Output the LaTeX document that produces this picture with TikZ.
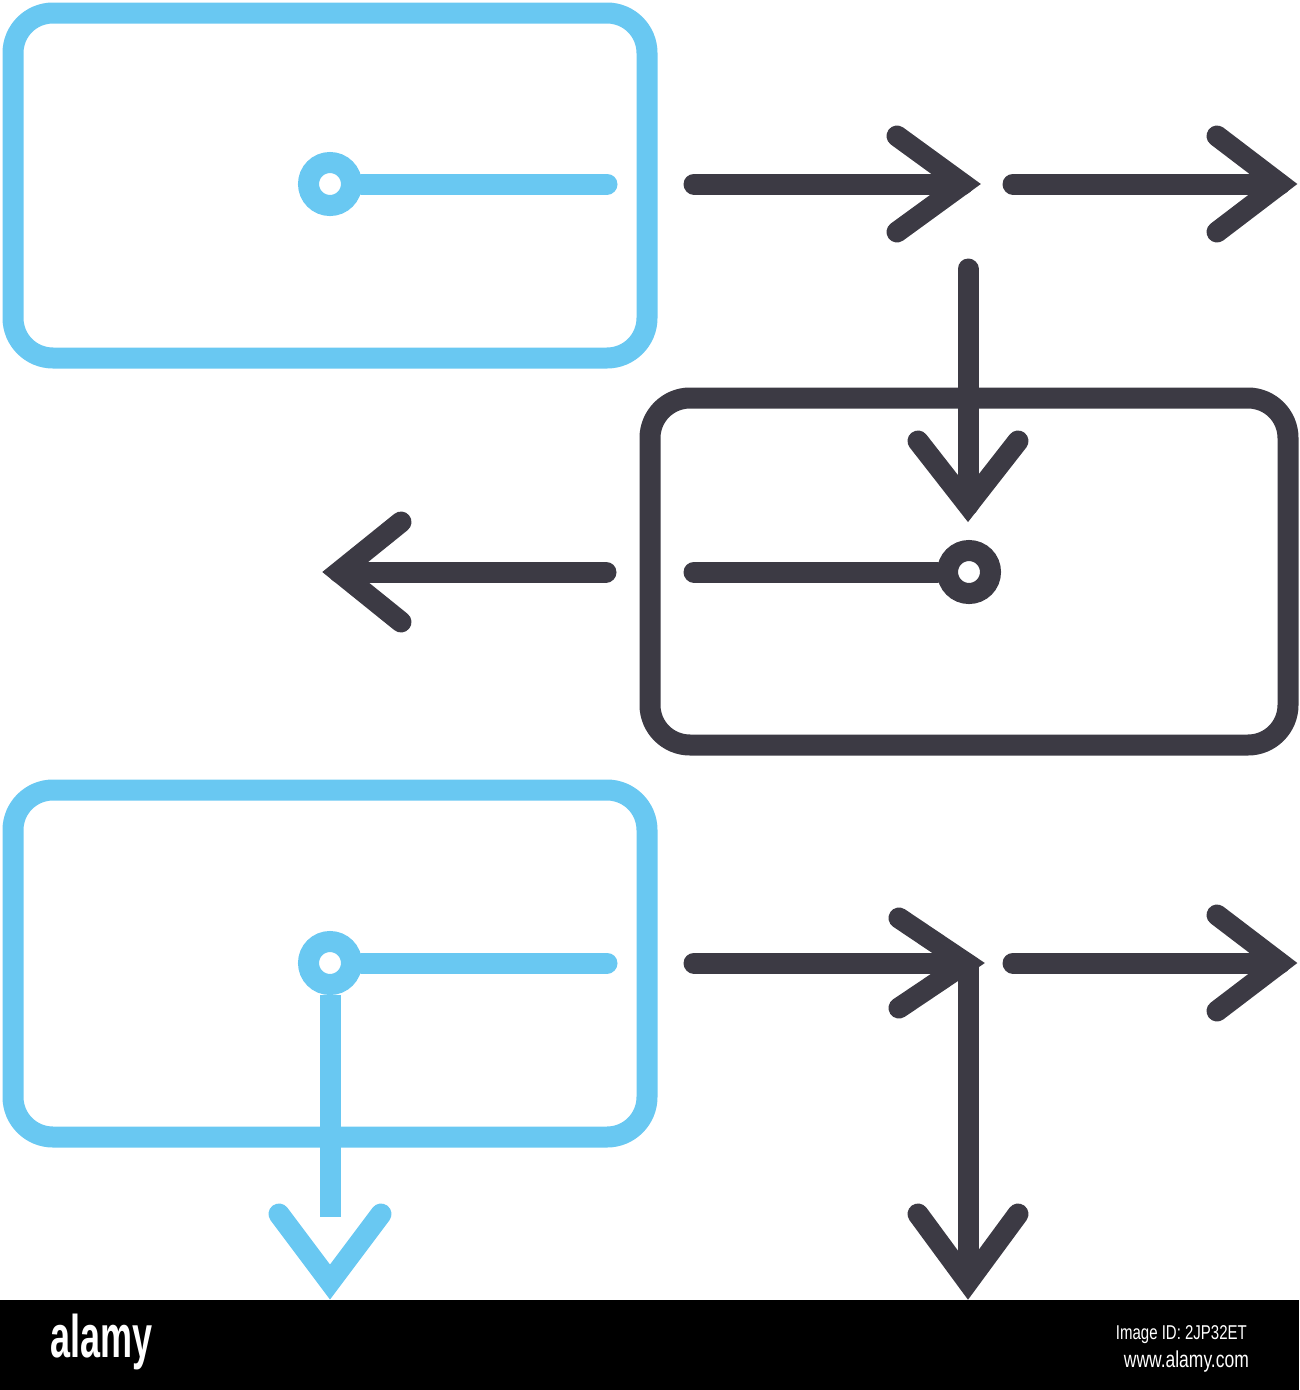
\documentclass[tikz,border=0pt]{standalone}
\usepackage{fontspec}
\setmainfont{Liberation Sans}
\usepackage{tikz}
\definecolor{ic_blue}{RGB}{105, 200, 242}
\definecolor{ic_dark}{RGB}{60, 58, 68}
\tikzstyle{bl}=[draw=ic_blue,line width=21pt,line cap=round,line join=miter]
\tikzstyle{dk}=[draw=ic_dark,line width=21pt,line cap=round,line join=miter]
\tikzstyle{bbox}=[rectangle,rounded corners=40pt,draw=ic_blue,line width=21pt,
  inner sep=0pt]
\tikzstyle{dbox}=[rectangle,rounded corners=40pt,draw=ic_dark,line width=21pt,
  inner sep=0pt]
\tikzstyle{bdot}=[circle,draw=ic_blue,line width=21pt,inner sep=0pt,minimum size=43pt]
\tikzstyle{ddot}=[circle,draw=ic_dark,line width=21pt,inner sep=0pt,minimum size=43pt]

\begin{document}
\begin{tikzpicture}[x=1pt,y=-1pt]
    \useasboundingbox (0,0) rectangle (1299,1390);
    % boxes
    \node [style=bbox,minimum width=634pt,minimum height=345pt] (top) at (330,185.5) {};
    \node [style=dbox,minimum width=638pt,minimum height=347pt] (mid) at (969,571.5) {};
    \node [style=bbox,minimum width=634pt,minimum height=347pt] (bot) at (330,963.5) {};
    % dots
    \node [style=bdot] (dottop) at (330,184) {};
    \node [style=ddot] (dotmid) at (969,572) {};
    \node [style=bdot] (dotbot) at (330,963) {};
    % line ends and arrow tips
    \coordinate (endtop) at (607,184);
    \coordinate (startmid) at (694,572);
    \coordinate (endbot) at (607,963);
    \coordinate (a1) at (694,184);
    \coordinate (t1) at (963,184);
    \coordinate (a2) at (1013,184);
    \coordinate (t2) at (1280,184);
    \coordinate (a3) at (968,269);
    \coordinate (t3) at (968,505);
    \coordinate (a4) at (606,572);
    \coordinate (t4) at (339,572);
    \coordinate (a5) at (694,963);
    \coordinate (t5) at (966,963);
    \coordinate (a6) at (968,963);
    \coordinate (t6) at (968,1282);
    \coordinate (a7) at (1013,963);
    \coordinate (t7) at (1280,963);
    \coordinate (t8) at (330,1282);
    \coordinate (e8) at (330,1217);
    % blue stems
    \draw [style=bl] (dottop) to (endtop);
    \draw [style=bl] (dotbot) to (endbot);
    \draw [style=bl,line cap=butt] (dotbot) to (e8);
    \draw [style=bl] (t8) ++(-51,-68) -- (t8) -- ++(51,-68);
    % dark arrows
    \draw [style=dk] (startmid) to (dotmid);
    \draw [style=dk] (a1) to (t1);
    \draw [style=dk] (t1) ++(-66,-48) -- (t1) -- ++(-66,48);
    \draw [style=dk] (a2) to (t2);
    \draw [style=dk] (t2) ++(-63,-48) -- (t2) -- ++(-63,48);
    \draw [style=dk] (a3) to (t3);
    \draw [style=dk] (t3) ++(-50,-64) -- (t3) -- ++(50,-64);
    \draw [style=dk] (a4) to (t4);
    \draw [style=dk] (t4) ++(62,-50) -- (t4) -- ++(62,50);
    \draw [style=dk] (a5) to (t5);
    \draw [style=dk] (t5) ++(-67,-45) -- (t5) -- ++(-67,45);
    \draw [style=dk,line cap=butt] (a6) to (t6);
    \draw [style=dk] (t6) ++(-50,-68) -- (t6) -- ++(50,-68);
    \draw [style=dk] (a7) to (t7);
    \draw [style=dk] (t7) ++(-63,-48) -- (t7) -- ++(-63,48);
    % footer
    \fill [black] (0,1300) rectangle (1299,1390);
    \node [anchor=west,text=white,font=\bfseries\fontsize{60}{60}\selectfont,
      xscale=0.6,inner sep=0pt] (logo) at (50,1342) {alamy};
    \node [anchor=east,text=white,font=\fontsize{20}{20}\selectfont,
      xscale=0.75,inner sep=0pt] (imgid) at (1247,1335) {Image ID: 2JP32ET};
    \node [anchor=east,text=white,font=\fontsize{23}{23}\selectfont,
      xscale=0.76,inner sep=0pt] (site) at (1249,1362) {www.alamy.com};
\end{tikzpicture}
\end{document}
